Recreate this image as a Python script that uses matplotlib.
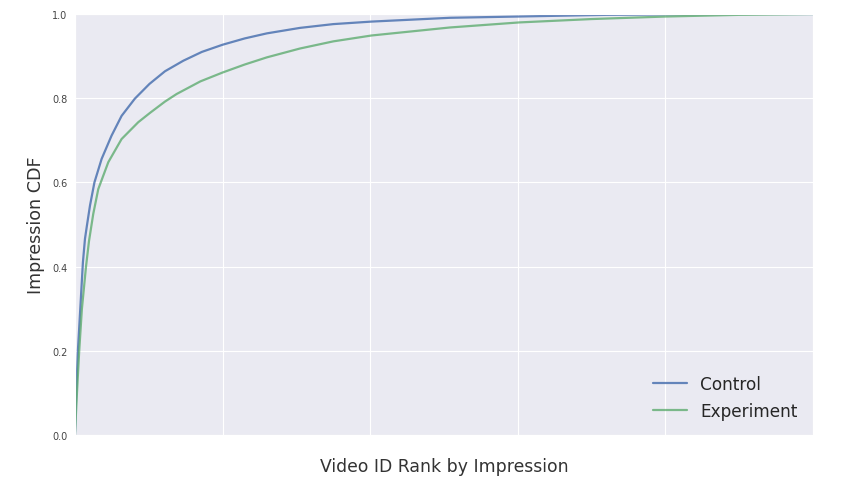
import matplotlib
matplotlib.use("Agg")
import matplotlib.pyplot as plt
import seaborn as sns

# rank position (arbitrary units, 5 grid intervals) and cumulative share of impressions
control_rank = [0, 0.009, 0.020, 0.036, 0.054, 0.068, 0.081, 0.102, 0.132, 0.181, 0.248,
                0.316, 0.406, 0.505, 0.61, 0.734, 0.86, 1.0, 1.15, 1.3, 1.524, 1.75,
                2.01, 2.54, 3.15, 3.6, 4.0, 4.5, 5.0]
control_cdf = [0, 0.102, 0.2, 0.299, 0.41, 0.466, 0.497, 0.545, 0.6, 0.656, 0.711,
               0.758, 0.799, 0.834, 0.864, 0.889, 0.91, 0.927, 0.942, 0.954, 0.967, 0.976,
               0.982, 0.991, 0.995, 0.998, 0.999, 1.0, 1.0]

experiment_rank = [0, 0.014, 0.029, 0.047, 0.075, 0.095, 0.124, 0.158, 0.226, 0.316, 0.429,
                   0.508, 0.61, 0.689, 0.85, 1.0, 1.15, 1.3, 1.524, 1.75, 2.01, 2.54,
                   3.01, 3.5, 4.0, 4.5, 5.0]
experiment_cdf = [0, 0.102, 0.2, 0.299, 0.4, 0.46, 0.525, 0.584, 0.648, 0.703, 0.743,
                  0.765, 0.792, 0.81, 0.84, 0.861, 0.88, 0.897, 0.918, 0.935, 0.949, 0.968,
                  0.980, 0.988, 0.994, 0.998, 1.0]

sns.set_style("darkgrid")
plt.rcParams['font.family'] = ['DejaVu Sans']

fig = plt.figure(figsize=(8.42, 4.81), dpi=100)
ax = fig.add_axes([0.089, 0.0936, 0.8766, 0.8752])

ax.plot(control_rank, control_cdf, color='#4C72B0', lw=1.6, alpha=0.85,
        solid_joinstyle='round', label='Control')
ax.plot(experiment_rank, experiment_cdf, color='#55A868', lw=1.6, alpha=0.75,
        solid_joinstyle='round', label='Experiment')

ax.set_xlim(0, 5)
ax.set_ylim(0, 1)
ax.set_xticks([0, 1, 2, 3, 4, 5])
ax.set_xticklabels([])
ax.set_yticks([0, 0.2, 0.4, 0.6, 0.8, 1.0])
ax.tick_params(axis='y', labelsize=7, colors='#444444', pad=2)
ax.set_xlabel('Video ID Rank by Impression', fontsize=12.4, color='#333333', labelpad=9)
ax.set_ylabel('Impression CDF', fontsize=12.6, color='#333333', labelpad=5)
ax.legend(loc='lower right', fontsize=12.2, frameon=False)

fig.savefig('out.png', dpi=100)
